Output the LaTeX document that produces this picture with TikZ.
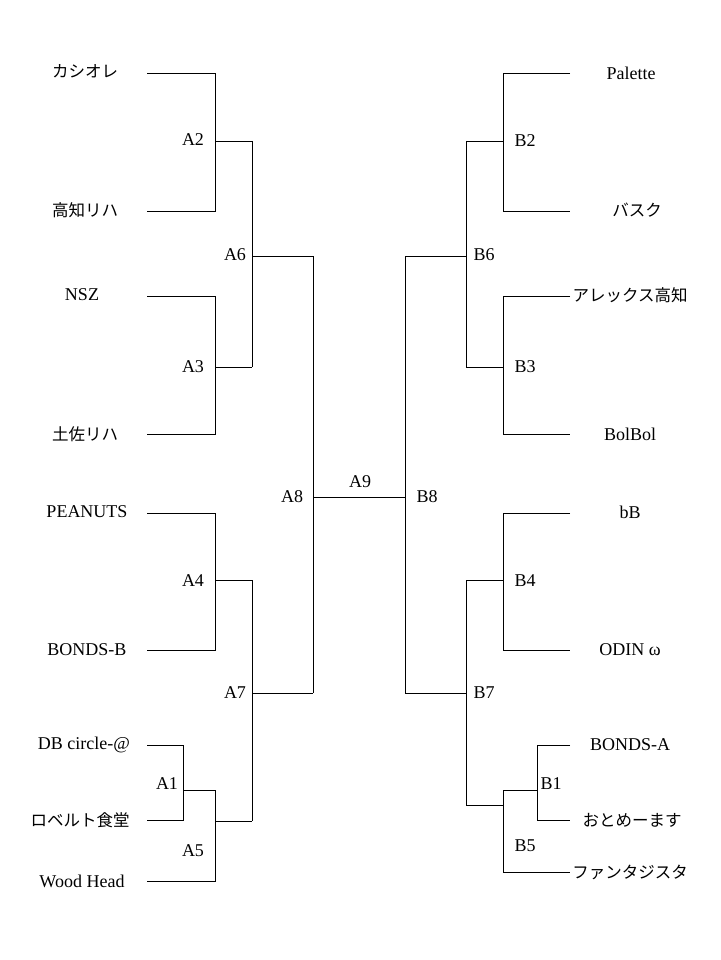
\documentclass[tikz,border=0pt]{standalone}
\usepackage{fontspec}
\setmainfont{Liberation Serif}
\newfontfamily\cjk{Noto Sans CJK JP}
\begin{document}
\begin{tikzpicture}[x=1pt,y=-1pt,font=\fontsize{18}{20}\selectfont,
  br/.style={line width=0.8pt},
  t/.style={inner sep=0pt},
  j/.style={inner sep=0pt,font=\cjk\fontsize{16.5}{19}\selectfont}]
\useasboundingbox (0,0) rectangle (720,960);
% left teams
\node[j] (l1) at (85,71) {カシオレ};
\node[j] (l2) at (85,210) {高知リハ};
\node[t] (l3) at (82,295) {NSZ};
\node[j] (l4) at (85,434) {土佐リハ};
\node[t] (l5) at (87,512) {PEANUTS};
\node[t] (l6) at (87,650) {BONDS-B};
\node[t] (l7) at (84,745) {DB circle-@};
\node[j] (l8) at (80,820) {ロベルト食堂};
\node[t] (l9) at (82,881) {Wood Head};
% right teams
\node[t] (r1) at (631,73) {Palette};
\node[j] (r2) at (637,210) {バスク};
\node[j] (r3) at (630,295) {アレックス高知};
\node[t] (r4) at (630,434) {BolBol};
\node[t] (r5) at (630,512) {bB};
\node[t] (r6) at (630,650) {ODIN ω};
\node[t] (r7) at (630,745) {BONDS-A};
\node[j] (r8) at (632,820) {おとめーます};
\node[j] (r9) at (630,872) {ファンタジスタ};
% match labels
\node[t] (A2) at (193,140) {A2};
\node[t] (A3) at (193,367) {A3};
\node[t] (A6) at (235,255) {A6};
\node[t] (A4) at (193,581) {A4};
\node[t] (A1) at (167,784) {A1};
\node[t] (A5) at (193,851) {A5};
\node[t] (A7) at (235,693) {A7};
\node[t] (A8) at (292,497) {A8};
\node[t] (A9) at (360,482) {A9};
\node[t] (B8) at (427,497) {B8};
\node[t] (B2) at (525,141) {B2};
\node[t] (B3) at (525,367) {B3};
\node[t] (B6) at (484,255) {B6};
\node[t] (B4) at (525,581) {B4};
\node[t] (B1) at (551,784) {B1};
\node[t] (B5) at (525,846) {B5};
\node[t] (B7) at (484,693) {B7};
% left bracket
\draw[br] (147,73) -| (215,211) -- (147,211);
\draw[br] (215,141) -- (252,141);
\draw[br] (147,296) -| (215,434) -- (147,434);
\draw[br] (215,367) -- (252,367);
\draw[br] (252,141) -- (252,367);
\draw[br] (252,256) -- (313,256);
\draw[br] (147,513) -| (215,650) -- (147,650);
\draw[br] (215,580) -- (252,580);
\draw[br] (147,745) -| (183,820) -- (147,820);
\draw[br] (183,790) -- (215,790);
\draw[br] (215,790) -- (215,881) -- (147,881);
\draw[br] (215,821) -- (252,821);
\draw[br] (252,580) -- (252,821);
\draw[br] (252,693) -- (313,693);
\draw[br] (313,256) -- (313,693);
\draw[br] (313,497) -- (405,497);
% right bracket
\draw[br] (405,256) -- (405,693);
\draw[br] (405,256) -- (466,256);
\draw[br] (405,693) -- (466,693);
\draw[br] (466,141) -- (466,367);
\draw[br] (466,141) -- (503,141);
\draw[br] (466,367) -- (503,367);
\draw[br] (570,73) -| (503,211) -- (570,211);
\draw[br] (570,296) -| (503,434) -- (570,434);
\draw[br] (466,580) -- (466,805);
\draw[br] (466,580) -- (503,580);
\draw[br] (570,513) -| (503,650) -- (570,650);
\draw[br] (466,805) -- (503,805);
\draw[br] (503,790) -- (503,872) -- (570,872);
\draw[br] (503,790) -- (537,790);
\draw[br] (570,745) -| (537,820) -- (570,820);
\end{tikzpicture}
\end{document}
